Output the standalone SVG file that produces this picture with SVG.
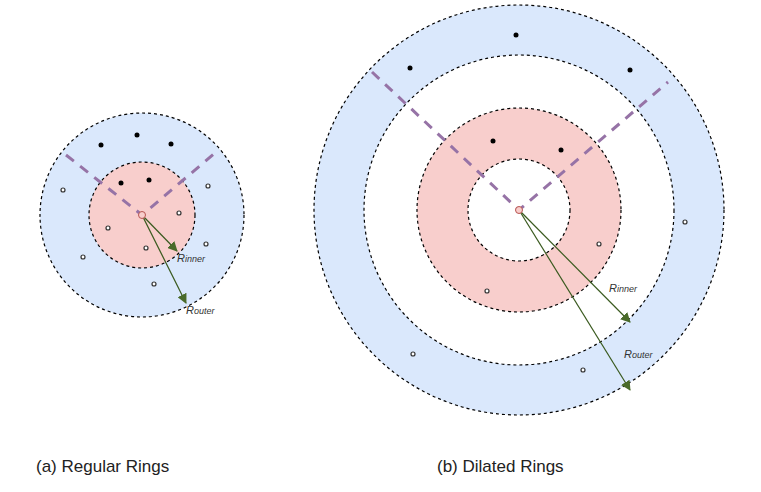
<svg xmlns="http://www.w3.org/2000/svg" width="761" height="492" viewBox="0 0 761 492">
<style>
.c{stroke:#000;stroke-width:1.2;stroke-dasharray:3,3}
.p{stroke:#9673a6;stroke-width:3;stroke-dasharray:10,8;fill:none}
.a{stroke:#3a5a1f;stroke-width:1.2;marker-end:url(#ar)}
.b{fill:#000}
.h{fill:#fff;stroke:#333;stroke-width:1.2}
.t{font-family:"Liberation Sans",Arial,sans-serif;font-style:italic;fill:#333}
.cap{font-family:"Liberation Sans",Arial,sans-serif;font-size:17px;fill:#222}
</style>
<defs><marker id="ar" viewBox="0 0 10 10" refX="9" refY="5" markerWidth="10" markerHeight="10" markerUnits="userSpaceOnUse" orient="auto"><path d="M0,0L10,5L0,10z" fill="#4a6b2a"/></marker></defs>
<rect width="761" height="492" fill="#fff"/>
<g id="left">
<circle cx="142" cy="215" r="102" fill="#dae8fc" class="c"/>
<circle cx="142" cy="215" r="53" fill="#f8cecc" class="c"/>
<path class="p" d="M66,155L142,215L215,153"/>
<g class="b"><circle cx="101" cy="145" r="2.5"/><circle cx="137" cy="135" r="2.5"/><circle cx="171" cy="144" r="2.5"/><circle cx="121" cy="183" r="2.5"/><circle cx="149" cy="180" r="2.5"/></g>
<g class="h"><circle cx="63" cy="190" r="2"/><circle cx="208" cy="186" r="2"/><circle cx="179" cy="213" r="2"/><circle cx="108" cy="228" r="2"/><circle cx="146" cy="248" r="2"/><circle cx="206" cy="244" r="2"/><circle cx="83" cy="257" r="2"/><circle cx="154" cy="284" r="2"/></g>
</g>
<g id="right">
<circle cx="519" cy="210" r="205" fill="#dae8fc" class="c"/>
<circle cx="519" cy="210" r="155" fill="#fff" class="c"/>
<circle cx="519" cy="210" r="102" fill="#f8cecc" class="c"/>
<circle cx="519" cy="210" r="51" fill="#fff" class="c"/>
<path class="p" d="M372,72L519,210L668,82"/>
<g class="b"><circle cx="516" cy="35" r="2.5"/><circle cx="410" cy="68" r="2.5"/><circle cx="630" cy="70" r="2.5"/><circle cx="493" cy="141" r="2.5"/><circle cx="561" cy="150" r="2.5"/></g>
<g class="h"><circle cx="599" cy="244" r="2"/><circle cx="487" cy="291" r="2"/><circle cx="685" cy="222" r="2"/><circle cx="413" cy="354" r="2"/><circle cx="583" cy="370" r="2"/></g>
</g>
<g id="connectors">
<line class="a" x1="142" y1="215" x2="177" y2="251"/>
<line class="a" x1="142" y1="215" x2="186" y2="303"/>
<line class="a" x1="519" y1="210" x2="630" y2="322"/>
<line class="a" x1="519" y1="210" x2="630" y2="390"/>
</g>
<circle cx="142" cy="215" r="3.5" fill="#f8cecc" stroke="#b85450"/>
<circle cx="519" cy="210" r="3.5" fill="#f8cecc" stroke="#b85450"/>
<g class="t"><text x="177" y="262" font-size="11">R<tspan font-size="9">inner</tspan></text>
<text x="186" y="314" font-size="11">R<tspan font-size="9">outer</tspan></text>
<text x="609" y="292" font-size="11">R<tspan font-size="9">inner</tspan></text>
<text x="624" y="358" font-size="11">R<tspan font-size="9">outer</tspan></text></g>
<text class="cap" x="36" y="472">(a) Regular Rings</text>
<text class="cap" x="437" y="472">(b) Dilated Rings</text>
</svg>
